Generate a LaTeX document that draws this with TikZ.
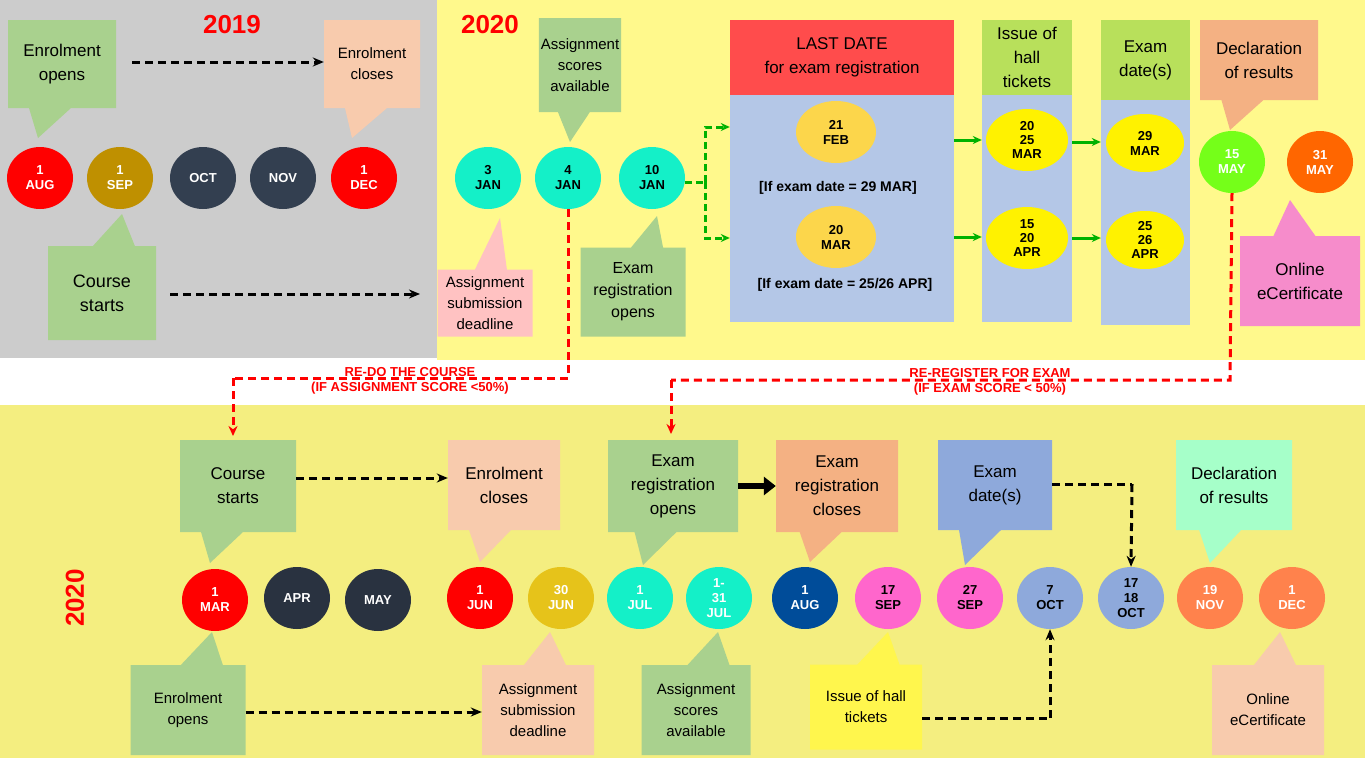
\documentclass[tikz,border=0pt]{standalone}
\usepackage{fontspec}
\setmainfont{Liberation Sans}
\usetikzlibrary{shapes.callouts,shapes.geometric,arrows.meta}
\definecolor{cgreen}{HTML}{A9D18E}
\definecolor{cpeach}{HTML}{F8CBAD}
\definecolor{corange}{HTML}{F4B183}
\definecolor{caqua}{HTML}{14F0C8}
\definecolor{cdark}{HTML}{333F50}
\definecolor{cblue}{HTML}{B4C7E7}
\definecolor{cmid}{HTML}{8EA9DB}
\definecolor{cgold}{HTML}{BF9000}
\definecolor{cpink}{HTML}{FF66CC}
\tikzset{
 cb/.style={rectangle callout,draw=none,align=center,font=\fontsize{15}{20}\selectfont,inner sep=2pt,callout pointer width=42pt},
 f15/.style={font=\fontsize{15}{21}\selectfont},
 f16/.style={font=\fontsize{16}{22}\selectfont},
 f17/.style={font=\fontsize{17}{24}\selectfont},
 f18/.style={font=\fontsize{18}{24}\selectfont},
 dot/.style={ellipse,draw=none,minimum width=66pt,minimum height=62pt,text=white,align=center,font=\fontsize{13}{15}\selectfont\bfseries,inner sep=0pt},
 ydot/.style={dot,text=black},
 blk/.style={draw=black,line width=3pt,dash pattern=on 8pt off 5pt,-{Stealth[length=11pt,width=9pt]}},
 grn/.style={draw=green!70!black,line width=3pt,dash pattern=on 7pt off 4pt,-{Stealth[length=9pt,width=8pt]}},
 red/.style={draw=red,line width=3pt,dash pattern=on 8pt off 5pt},
 lbl/.style={text=red,font=\fontsize{13}{15}\selectfont\bfseries,align=center,inner sep=1pt},
 yr/.style={text=red,font=\fontsize{26}{28}\selectfont\bfseries},
 plain/.style={align=center,font=\fontsize{15}{18}\selectfont,inner sep=1pt}
}
\begin{document}
\begin{tikzpicture}[x=1pt,y=-1pt]
\useasboundingbox (0,0) rectangle (1365,758);
\fill[white] (0,0) rectangle (1365,758);
\fill[gray!40] (0,0) rectangle (437,358);
\fill[yellow!45] (437,0) rectangle (1365,360);
\fill[yellow!50!white!95!black] (0,405) rectangle (1365,758);
% ---- 2019 ----
\node[yr] (y19) at (232,25) {2019};
\node[cb,f17,fill=cgreen,minimum width=108pt,minimum height=88pt,callout absolute pointer={(38,138)}] (eo1) at (62,64) {Enrolment\\opens};
\node[cb,f15,fill=cpeach,minimum width=96pt,minimum height=88pt,callout absolute pointer={(352,138)}] (ec1) at (372,64) {Enrolment\\closes};
\draw[blk] (eo1.east|-0,62) ++(16,0) coordinate (a1) -- (ec1.west|-0,62);
\node[dot,fill=red] (aug) at (40,178) {1\\AUG};
\node[dot,fill=cgold] (sep) at (120,178) {1\\SEP};
\node[dot,fill=cdark] (oct) at (203,178) {OCT};
\node[dot,fill=cdark] (nov) at (283,178) {NOV};
\node[dot,fill=red] (dec) at (364,178) {1\\DEC};
\node[cb,f18,fill=cgreen,minimum width=108pt,minimum height=94pt,callout absolute pointer={(122,214)}] (cs1) at (102,293) {Course\\starts};
\coordinate (cs1e) at (420,294);
\draw[blk] (cs1.east|-0,294) ++(14,0) -- (cs1e);
% ---- 2020 top ----
\node[yr] (y20) at (490,25) {2020};
\node[dot,fill=caqua,text=black] (j3) at (488,178) {3\\JAN};
\node[dot,fill=caqua,text=black] (j4) at (568,178) {4\\JAN};
\node[dot,fill=caqua,text=black] (j10) at (652,178) {10\\JAN};
\node[cb,f15,fill=cgreen,minimum width=76pt,minimum height=94pt,callout absolute pointer={(570,142)},callout pointer width=32pt] (asa) at (580,65) {Assignment\\scores\\available};
\node[cb,f15,fill=pink!80!red!60,minimum width=95pt,minimum height=67pt,callout absolute pointer={(500,218)},callout pointer width=32pt] (asd) at (485,303) {Assignment\\submission\\deadline};
\node[cb,f16,fill=cgreen,minimum width=105pt,minimum height=89pt,callout absolute pointer={(657,216)},callout pointer width=32pt] (ero) at (633,292) {Exam\\registration\\opens};
% last date
\node[fill=cblue,minimum width=224pt,minimum height=227pt,inner sep=0pt] (ldb) at (842,208.5) {};
\node[fill=red!70,minimum width=224pt,minimum height=75pt,plain,f17] (ldh) at (842,57.5) {LAST DATE\\for exam registration};
\node[ydot,fill=yellow!60!orange!70,minimum width=80pt] (f21) at (836,132) {21\\FEB};
\node[plain,font=\fontsize{14}{16}\selectfont\bfseries] (t1) at (838,188) {[If exam date = 29 MAR]};
\node[ydot,fill=yellow!60!orange!70,minimum width=80pt] (m20) at (836,237) {20\\MAR};
\node[plain,font=\fontsize{14}{16}\selectfont\bfseries] (t2) at (845,285) {[If exam date = 25/26 APR]};
\coordinate (sp) at (705,182);
\draw[grn,-] (j10.east|-0,182) -- (sp);
\draw[grn] (sp) |- (ldb.west|-0,127);
\draw[grn] (sp) |- (ldb.west|-0,238);
% hall tickets
\node[fill=cblue,minimum width=90pt,minimum height=227pt,inner sep=0pt] (htb) at (1027,208.5) {};
\node[fill=yellow!60!green!70,minimum width=90pt,minimum height=75pt,plain,f17] (hth) at (1027,57.5) {Issue of\\hall\\tickets};
\node[ydot,fill=yellow,minimum width=82pt,font=\fontsize{13}{14}\selectfont\bfseries] (h1) at (1027,140) {20\\25\\MAR};
\node[ydot,fill=yellow,minimum width=82pt,font=\fontsize{13}{14}\selectfont\bfseries] (h2) at (1027,238) {15\\20\\APR};
% exam dates
\node[fill=cblue,minimum width=89pt,minimum height=225pt,inner sep=0pt] (edb) at (1145.5,212.5) {};
\node[fill=yellow!60!green!70,minimum width=89pt,minimum height=80pt,plain,f17] (edh) at (1145.5,60) {Exam\\date(s)};
\node[ydot,fill=yellow,minimum width=78pt,minimum height=58pt] (e1) at (1145,143) {29\\MAR};
\node[ydot,fill=yellow,minimum width=78pt,minimum height=58pt,font=\fontsize{13}{14}\selectfont\bfseries] (e2) at (1145,240) {25\\26\\APR};
\draw[grn,dash pattern={}] (ldb.east|-0,140) -- (htb.west|-0,140);
\draw[grn,dash pattern={}] (ldb.east|-0,237) -- (htb.west|-0,237);
\draw[grn,dash pattern={}] (htb.east|-0,142) -- (edb.west|-0,142);
\draw[grn,dash pattern={}] (htb.east|-0,238) -- (edb.west|-0,238);
\node[cb,f17,fill=corange,minimum width=118pt,minimum height=80pt,callout absolute pointer={(1230,130)}] (dr1) at (1259,60) {Declaration\\of results};
\node[dot,fill=green!60!yellow!90] (m15) at (1232,162) {15\\MAY};
\node[dot,fill=orange!80!red] (m31) at (1320,162) {31\\MAY};
\node[cb,f17,fill=magenta!45,minimum width=120pt,minimum height=90pt,callout absolute pointer={(1290,200)}] (oc1) at (1300,281) {Online\\eCertificate};
% red loops
\coordinate (r1) at (568,378);
\coordinate (r2) at (233,378);
\coordinate (r3) at (233,436);
\draw[red] (j4.south) -- (r1) -- (r2);
\draw[red,-{Stealth[length=10pt,width=9pt]}] (r2) -- (r3);
\node[lbl] (l1) at (410,381) {RE-DO THE COURSE\\(IF ASSIGNMENT SCORE <50\%)};
\coordinate (q1) at (1230,380);
\coordinate (q2) at (671,380);
\coordinate (q3) at (671,434);
\draw[red] (m15.south) -- (q1) -- (q2);
\draw[red,-{Stealth[length=10pt,width=9pt]}] (q2) -- (q3);
\node[lbl] (l2) at (990,382) {RE-REGISTER FOR EXAM\\(IF EXAM SCORE < 50\%)};
% ---- 2020 bottom ----
\node[yr,rotate=90] (y20b) at (75,598) {2020};
\node[cb,f17,fill=cgreen,minimum width=116pt,minimum height=92pt,callout absolute pointer={(210,563)}] (cs2) at (238,486) {Course\\starts};
\node[cb,f17,fill=cpeach,minimum width=112pt,minimum height=90pt,callout absolute pointer={(480,562)}] (ec2) at (504,485) {Enrolment\\closes};
\draw[blk] (cs2.east|-0,478) -- (ec2.west|-0,478);
\node[cb,f17,fill=cgreen,minimum width=130pt,minimum height=92pt,callout absolute pointer={(643,565)}] (er2) at (673,486) {Exam\\registration\\opens};
\node[cb,f17,fill=corange,minimum width=122pt,minimum height=92pt,callout absolute pointer={(810,562)}] (rc2) at (837,486) {Exam\\registration\\closes};
\draw[line width=6pt,-{Triangle[length=12pt,width=18pt]}] (er2.east|-0,486) -- (rc2.west|-0,486);
\node[cb,f17,fill=cmid,minimum width=114pt,minimum height=90pt,callout absolute pointer={(965,565)}] (ed2) at (995,485) {Exam\\date(s)};
\node[cb,f17,fill=green!60!cyan!35,minimum width=116pt,minimum height=90pt,callout absolute pointer={(1210,563)}] (dr2) at (1234,485) {Declaration\\of results};
\node[dot,fill=red] (b1) at (215,600) {1\\MAR};
\node[dot,fill=cdark!80!black] (b2) at (297,598) {APR};
\node[dot,fill=cdark!80!black] (b3) at (378,600) {MAY};
\node[dot,fill=red] (b4) at (480,598) {1\\JUN};
\node[dot,fill=yellow!70!orange!90!black] (b5) at (561,598) {30\\JUN};
\node[dot,fill=caqua] (b6) at (640,598) {1\\JUL};
\node[dot,fill=caqua] (b7) at (719,598) {1-\\31\\JUL};
\node[dot,fill=blue!50!cyan!60!black] (b8) at (805,598) {1\\AUG};
\node[ydot,fill=cpink] (b9) at (888,598) {17\\SEP};
\node[ydot,fill=cpink] (b10) at (970,598) {27\\SEP};
\node[ydot,fill=cmid] (b11) at (1050,598) {7\\OCT};
\node[ydot,fill=cmid] (b12) at (1131,598) {17\\18\\OCT};
\node[dot,fill=orange!60!red!70] (b13) at (1210,598) {19\\NOV};
\node[dot,fill=orange!60!red!70] (b14) at (1292,598) {1\\DEC};
\coordinate (k1) at (1132,484);
\draw[blk,-] (ed2.east|-0,484) -- (k1);
\draw[blk] (k1) -- (b12.north);
\node[cb,f15,fill=cgreen,minimum width=115pt,minimum height=90pt,callout absolute pointer={(212,632)}] (eo2) at (188,710) {Enrolment\\opens};
\node[cb,f15,fill=cpeach,minimum width=112pt,minimum height=90pt,callout absolute pointer={(550,632)}] (asd2) at (538,710) {Assignment\\submission\\deadline};
\draw[blk] (eo2.east|-0,712) -- (asd2.west|-0,712);
\node[cb,f15,fill=cgreen,minimum width=109pt,minimum height=90pt,callout absolute pointer={(718,632)}] (asa2) at (696,710) {Assignment\\scores\\available};
\node[cb,f15,fill=yellow!70,minimum width=112pt,minimum height=85pt,callout absolute pointer={(888,632)}] (ih2) at (866,707) {Issue of hall\\tickets};
\coordinate (k2) at (1050,718);
\draw[blk,-] (ih2.east|-0,718) -- (k2);
\draw[blk] (k2) -- (b11.south);
\node[cb,f15,fill=cpeach,minimum width=112pt,minimum height=90pt,callout absolute pointer={(1280,632)}] (oc2) at (1268,710) {Online\\eCertificate};
\end{tikzpicture}
\end{document}
